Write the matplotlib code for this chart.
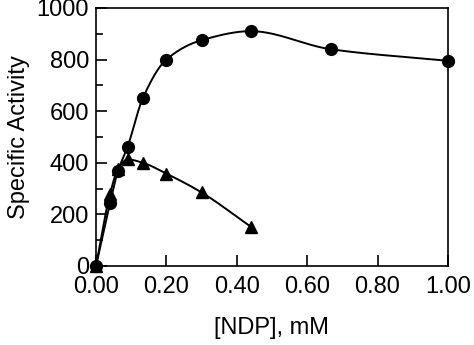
import numpy as np
import matplotlib
matplotlib.use("Agg")
import matplotlib.pyplot as plt
from matplotlib.ticker import MultipleLocator, FormatStrFormatter

# NDP concentration (mM) and specific activity for the two series
ndp_circle = [0.0, 0.04, 0.0625, 0.09, 0.133, 0.20, 0.30, 0.44, 0.667, 1.00]
act_circle = [0, 245, 368, 463, 650, 800, 875, 910, 840, 795]

ndp_tri = [0.0, 0.04, 0.0625, 0.09, 0.133, 0.20, 0.30, 0.44]
act_tri = [0, 280, 375, 413, 400, 358, 285, 152]

x_ticks = [0.0, 0.2, 0.4, 0.6, 0.8, 1.0]
y_ticks = [0, 200, 400, 600, 800, 1000]


def pchip(x, y, n=400):
    """Shape-preserving cubic (Fritsch-Carlson) curve through the points."""
    x = np.asarray(x, float)
    y = np.asarray(y, float)
    h = np.diff(x)
    d = np.diff(y) / h
    m = np.zeros_like(y)
    for k in range(1, len(x) - 1):
        if d[k - 1] * d[k] > 0:
            w1 = 2 * h[k] + h[k - 1]
            w2 = h[k] + 2 * h[k - 1]
            m[k] = (w1 + w2) / (w1 / d[k - 1] + w2 / d[k])
    m[0] = d[0]
    m[-1] = d[-1]
    xs = np.linspace(x[0], x[-1], n)
    idx = np.clip(np.searchsorted(x, xs) - 1, 0, len(x) - 2)
    t = (xs - x[idx]) / h[idx]
    h00 = 2 * t**3 - 3 * t**2 + 1
    h10 = t**3 - 2 * t**2 + t
    h01 = -2 * t**3 + 3 * t**2
    h11 = t**3 - t**2
    ys = h00 * y[idx] + h10 * h[idx] * m[idx] + h01 * y[idx + 1] + h11 * h[idx] * m[idx + 1]
    return xs, ys


plt.rcParams['font.family'] = ['Liberation Sans', 'DejaVu Sans']

fig = plt.figure(figsize=(4.74, 3.45), dpi=100)
ax = fig.add_axes([0.2025, 0.229, 0.7425, 0.748])

xs, ys = pchip(ndp_circle, act_circle)
ax.plot(xs, ys, color='black', lw=1.4)
ax.plot(ndp_circle, act_circle, 'o', color='black', ms=8.5, clip_on=False, zorder=3)

xs, ys = pchip(ndp_tri, act_tri)
ax.plot(xs, ys, color='black', lw=1.4)
ax.plot(ndp_tri, act_tri, '^', color='black', ms=8.5, clip_on=False, zorder=3)

ax.set_xlim(0, 1.0)
ax.set_ylim(0, 1000)
ax.set_xticks(x_ticks)
ax.set_yticks(y_ticks)
ax.xaxis.set_major_formatter(FormatStrFormatter('%.2f'))
ax.yaxis.set_minor_locator(MultipleLocator(100))
ax.tick_params(axis='both', which='major', direction='in', length=8, width=1.2,
               labelsize=17, pad=5)
ax.tick_params(axis='y', which='minor', direction='in', length=5, width=1.2)
ax.tick_params(axis='x', pad=7)
for s in ax.spines.values():
    s.set_linewidth(1.2)

ax.set_xlabel('[NDP], mM', fontsize=17, labelpad=14)
ax.set_ylabel('Specific Activity', fontsize=17, labelpad=5)

fig.savefig('out.png', dpi=100)
